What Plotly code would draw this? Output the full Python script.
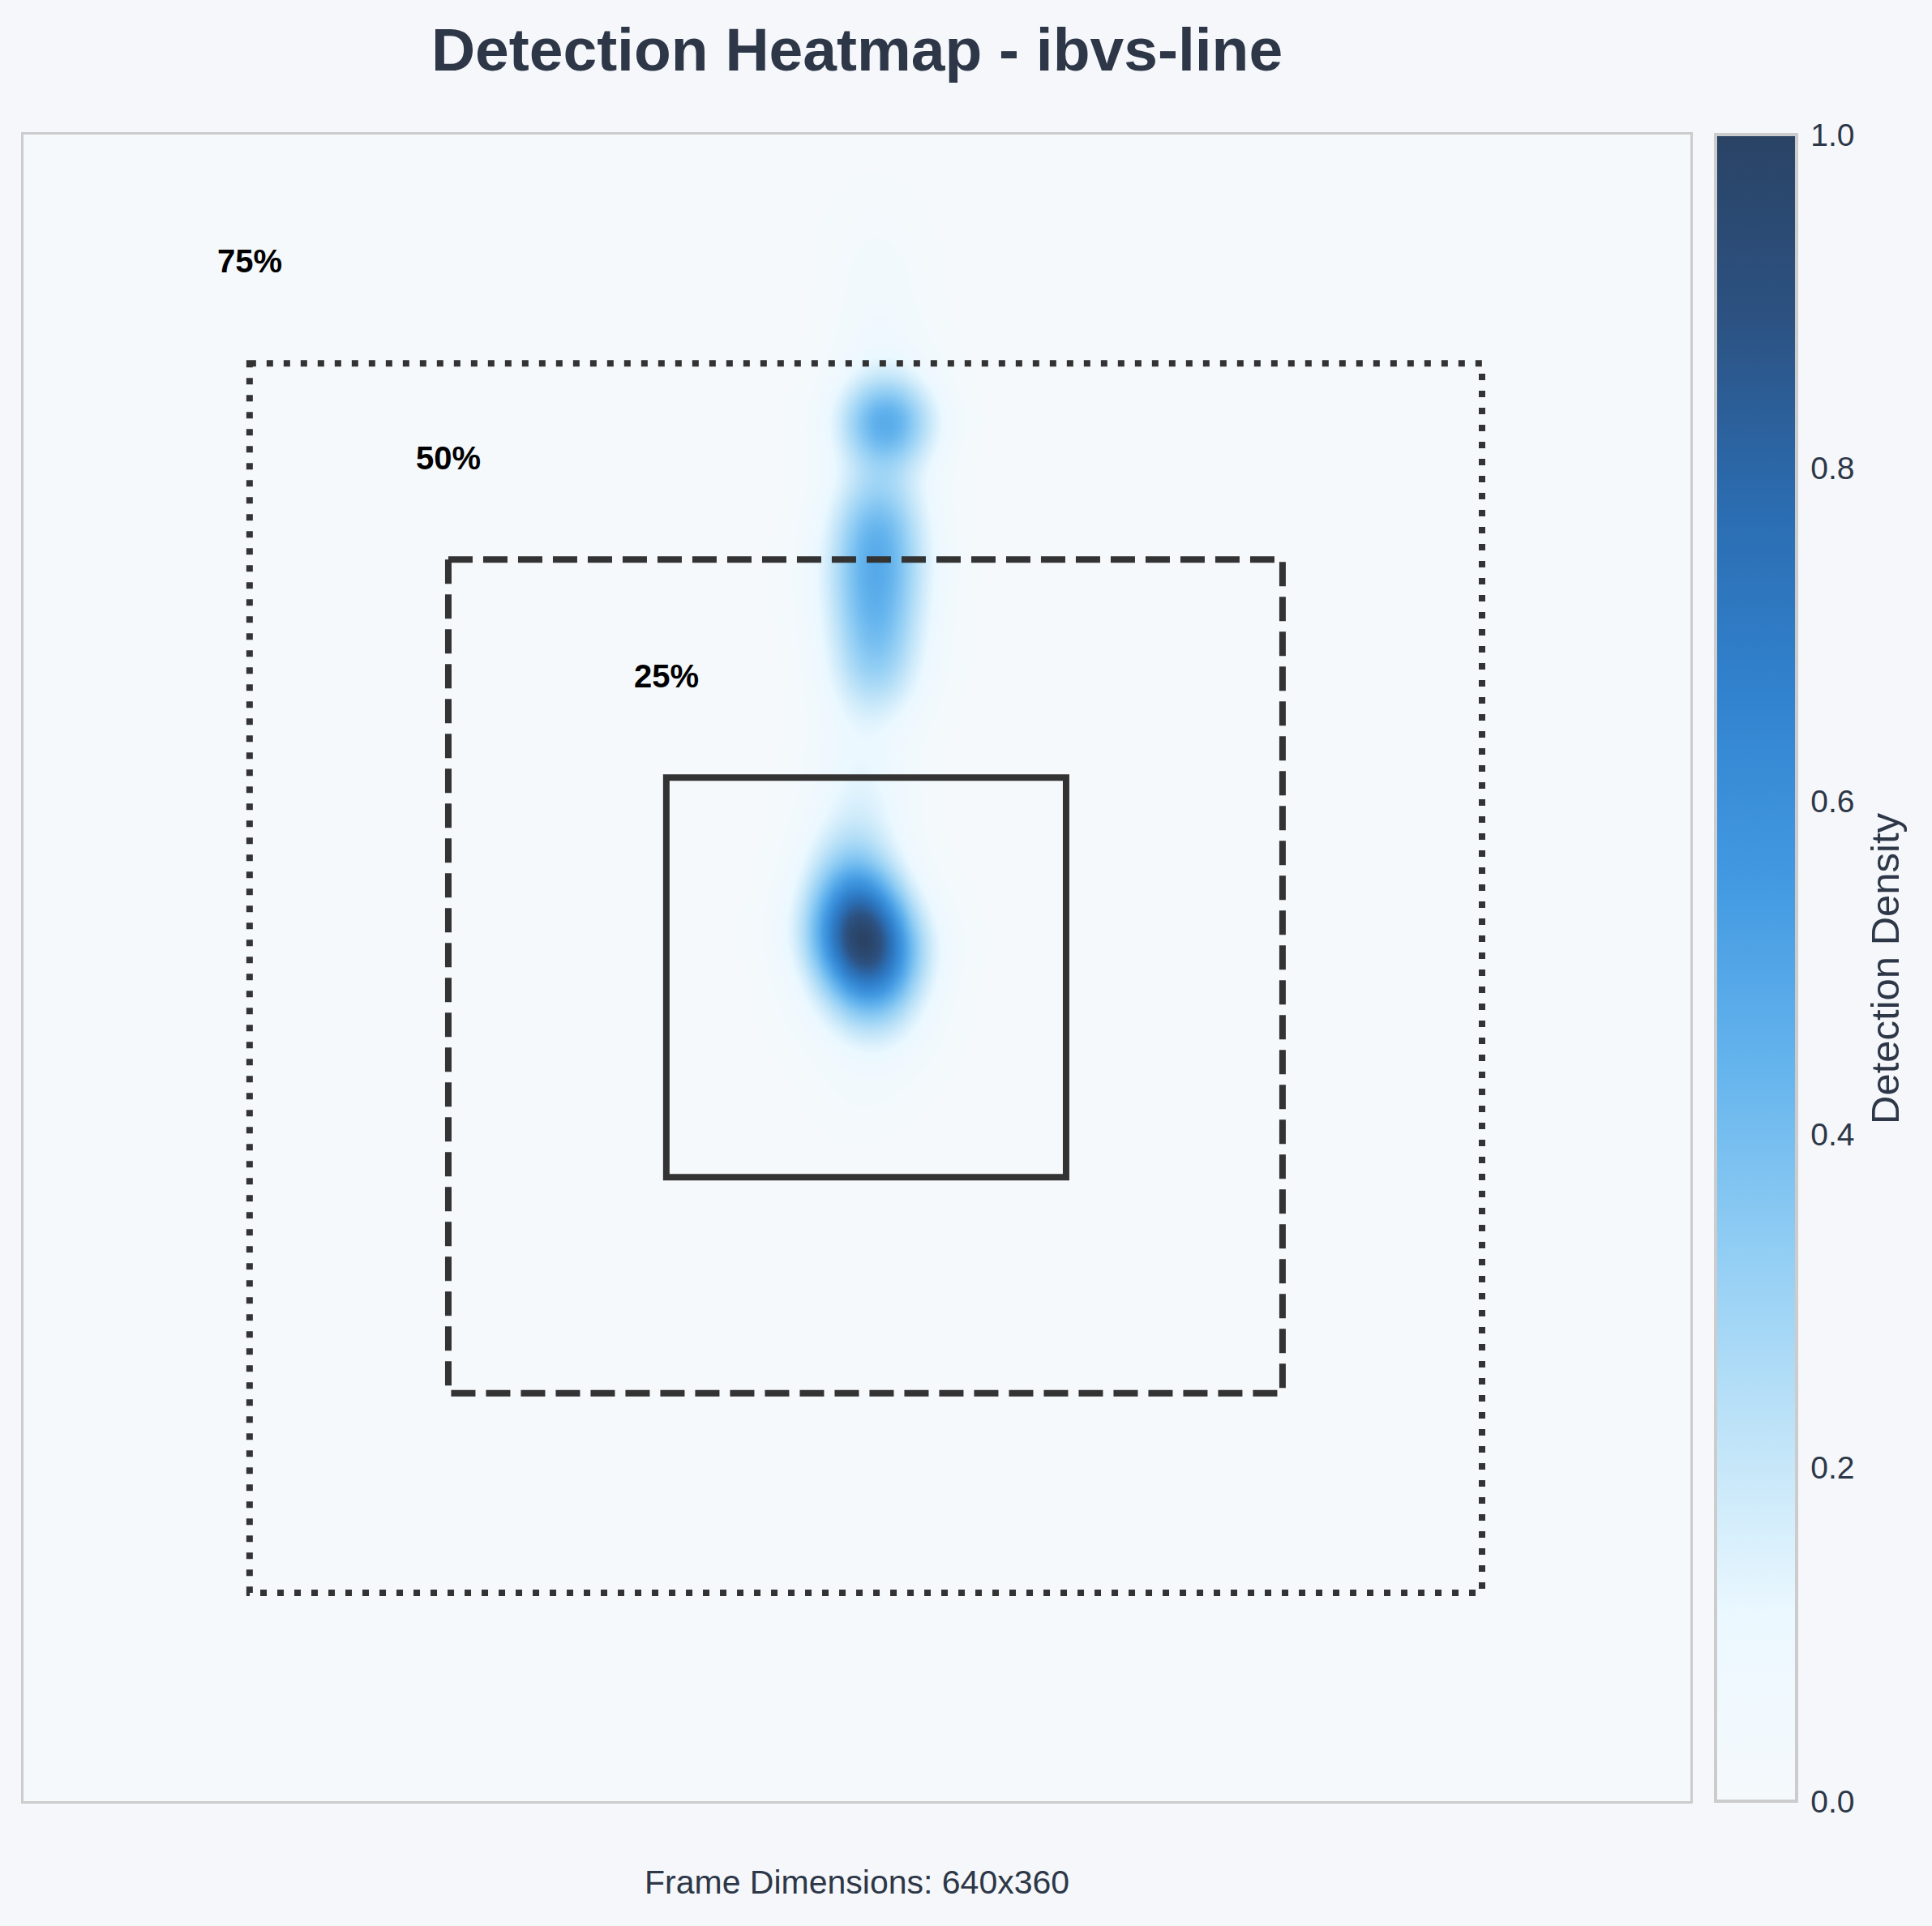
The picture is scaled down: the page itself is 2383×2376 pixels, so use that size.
import numpy as np
import plotly.graph_objects as go

# ---------------- data ----------------
FRAME_W = 640
FRAME_H = 360

# detection positions (frame pixels) and how many detections at each
det_x = [331, 329, 328, 327, 328, 327.5, 327, 327, 327, 326.5, 321, 320,
         319, 321, 323, 326, 315, 332, 324, 317, 328,
         300, 345, 322, 318, 338, 305, 312, 342, 326]
det_y = [62, 44, 30, 18, 80, 88, 96, 104, 112, 120, 140, 150,
         163, 169, 175, 181, 176, 178, 188, 156, 190,
         172, 172, 205, 132, 195, 190, 95, 95, 140]
det_n = [11, 1.2, 0.7, 0.3, 4.8, 5, 5, 4.7, 4.0, 3.1, 1.2, 1.8,
         5, 8, 8, 5, 3, 2.5, 3, 2, 1,
         0.6, 0.6, 0.7, 0.8, 0.5, 0.5, 0.4, 0.4, 0.6]

# centre zones (label, x0, y0, x1, y1 in frame pixels, dash)
zone_labels = ["75%", "50%", "25%"]
zone_x0 = [86.8, 163.1, 246.8]
zone_x1 = [560.0, 483.4, 400.3]
zone_y0 = [49.4, 91.8, 138.9]
zone_y1 = [315.0, 271.9, 225.2]
zone_dash = ["8px,13px", "30px,13px", "solid"]
label_offset = 22

colorbar_ticks = [0.0, 0.2, 0.4, 0.6, 0.8, 1.0]

# ---------------- density (gaussian KDE of detections) ----------------
BW = 0.02  # bandwidth, fraction of frame size
gx = np.linspace(1, FRAME_W - 1, 320)
gy = np.linspace(1, FRAME_H - 1, 180)
X, Y = np.meshgrid(gx, gy)
Z = np.zeros_like(X)
sx, sy = BW * FRAME_W, BW * FRAME_H
for x0, y0, n in zip(det_x, det_y, det_n):
    Z += n * np.exp(-0.5 * (((X - x0) / sx) ** 2 + ((Y - y0) / sy) ** 2))
Z = Z / Z.max()

colorscale = [
    [0.0, "#f5f9fc"], [1 / 9, "#ebf8ff"], [2 / 9, "#bee3f8"], [3 / 9, "#90cdf4"],
    [4 / 9, "#63b3ed"], [5 / 9, "#4299e1"], [6 / 9, "#3182ce"], [7 / 9, "#2b6cb0"],
    [8 / 9, "#2c5282"], [1.0, "#2a4365"],
]

TXT = "#2d3748"
FONT = "Liberation Sans, Arial, sans-serif"

fig = go.Figure()
fig.add_trace(go.Heatmap(
    x=gx, y=gy, z=Z, zmin=0, zmax=1, zsmooth="best",
    colorscale=colorscale, hoverinfo="skip",
    colorbar=dict(
        thickness=100, thicknessmode="pixels", len=1, lenmode="fraction",
        x=1.0151, xanchor="left", y=0.5, yanchor="middle", xpad=0, ypad=0,
        outlinecolor="#cccccc", outlinewidth=4,
        tickvals=colorbar_ticks, ticktext=[f"{v:.1f}" for v in colorbar_ticks],
        ticks="outside", ticklen=8, tickcolor="rgba(0,0,0,0)",
        tickfont=dict(family=FONT, size=39, color=TXT),
    ),
))

for lab, x0, x1, y0, y1, dash in zip(zone_labels, zone_x0, zone_x1, zone_y0, zone_y1, zone_dash):
    fig.add_shape(type="rect", xref="x", yref="y", x0=x0, x1=x1, y0=y0, y1=y1,
                  line=dict(color="#333333", width=8, dash=dash), fillcolor="rgba(0,0,0,0)")
    fig.add_annotation(x=x0, y=y0 - label_offset, xref="x", yref="y", text=f"<b>{lab}</b>",
                       showarrow=False, xanchor="center", yanchor="middle",
                       font=dict(family=FONT, size=40, color="#000000"))

fig.add_annotation(x=1.1167, y=0.5, xref="paper", yref="paper", text="Detection Density",
                   textangle=-90, showarrow=False, xanchor="center", yanchor="middle",
                   font=dict(family=FONT, size=49, color=TXT))

fig.add_annotation(x=0.5, y=-0.0486, xref="paper", yref="paper",
                   text=f"Frame Dimensions: {FRAME_W}x{FRAME_H}", showarrow=False,
                   xanchor="center", yanchor="middle",
                   font=dict(family=FONT, size=41, color=TXT))

fig.update_layout(
    width=2383, height=2376,
    margin=dict(l=29, r=298, t=166, b=154),
    paper_bgcolor="#f5f7fa", plot_bgcolor="#f5f9fc",
    title=dict(text="<b>Detection Heatmap - ibvs-line</b>", x=0.5, xref="paper",
               y=1 - 61 / 2376, yref="container", xanchor="center", yanchor="middle",
               font=dict(family=FONT, size=75, color=TXT)),
    xaxis=dict(range=[0, FRAME_W], showticklabels=False, ticks="", showgrid=False,
               zeroline=False, showline=True, mirror=True, linecolor="#cccccc", linewidth=3),
    yaxis=dict(range=[FRAME_H, 0], showticklabels=False, ticks="", showgrid=False,
               zeroline=False, showline=True, mirror=True, linecolor="#cccccc", linewidth=3),
    showlegend=False,
)

fig.write_html("out.html")
